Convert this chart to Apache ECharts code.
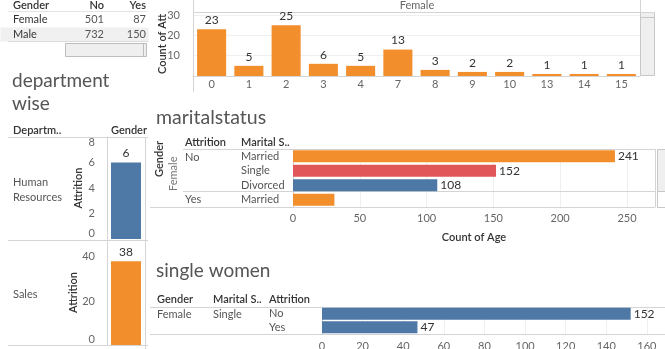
<!DOCTYPE html>
<html>
<head>
<meta charset="utf-8">
<script src="https://cdn.jsdelivr.net/npm/echarts@6/dist/echarts.min.js"></script>
<style>
  html, body { margin: 0; padding: 0; background: #fff; }
  #c { width: 665px; height: 349px; }
</style>
</head>
<body>
<div id="c"></div>
<script>
// Attrition crosstab by gender
const summaryGenders = ['Female', 'Male'];
const summaryNo = [501, 732];
const summaryYes = [87, 150];

// Female attrition count by years at company
const yearCategories = ['0', '1', '2', '3', '4', '7', '8', '9', '10', '13', '14', '15'];
const yearCounts = [23, 5, 25, 6, 5, 13, 3, 2, 2, 1, 1, 1];

// Department panels
const departments = ['Human\nResources', 'Sales'];
const departmentAttrition = [6, 38];

// Female employees by attrition and marital status
const maritalAttrition = ['No', 'No', 'No', 'Yes'];
const maritalStatus = ['Married', 'Single', 'Divorced', 'Married'];
const maritalCounts = [241, 152, 108, 31];
const maritalShowLabel = [true, true, true, false];

// Single women by attrition
const singleAttrition = ['No', 'Yes'];
const singleCounts = [152, 47];

const FONT = 'Lato, "Open Sans", sans-serif';
const ORANGE = '#f28e2b', RED = '#e15759', BLUE = '#4e79a7';
const statusColor = { Married: ORANGE, Single: RED, Divorced: BLUE };
const LINE = '#d4d4d4';

function txt(x, y, text, o) {
  o = o || {};
  return {
    type: 'text', x: x, y: y, rotation: o.rot || 0, silent: true, z: 10,
    style: {
      text: String(text), fill: o.color || '#555',
      font: (o.weight || 'normal') + ' ' + (o.size || 11) + 'px ' + FONT,
      align: o.align || 'left', verticalAlign: 'middle', lineHeight: o.lh
    }
  };
}
function hline(x1, x2, y, c) {
  return { type: 'line', silent: true, z: 1, shape: { x1: x1, y1: y + 0.5, x2: x2, y2: y + 0.5 }, style: { stroke: c || LINE, lineWidth: 1 } };
}
function vline(x, y1, y2, c) {
  return { type: 'line', silent: true, z: 1, shape: { x1: x + 0.5, y1: y1, x2: x + 0.5, y2: y2 }, style: { stroke: c || LINE, lineWidth: 1 } };
}
function box(x, y, w, h, fill, stroke) {
  return { type: 'rect', silent: true, z: 0, shape: { x: x + 0.5, y: y + 0.5, width: w, height: h }, style: { fill: fill, stroke: stroke || 'none', lineWidth: 1 } };
}

const graphics = [];
const HEAD = { weight: 600, color: '#333' };

// crosstab
graphics.push(box(0, 27, 148, 14, '#f0f0f0'));
graphics.push(hline(8, 148, 11, '#e4e4e4'), hline(8, 148, 41, '#dcdcdc'));
graphics.push(txt(13, 5, 'Gender', HEAD), txt(104, 5, 'No', Object.assign({ align: 'right' }, HEAD)), txt(146, 5, 'Yes', Object.assign({ align: 'right' }, HEAD)));
summaryGenders.forEach(function (g, i) {
  const y = 19 + i * 15;
  graphics.push(txt(13, y, g, { color: '#333' }), txt(104, y, summaryNo[i], { align: 'right' }), txt(146, y, summaryYes[i], { align: 'right' }));
});
graphics.push(box(65, 43, 81, 13, '#efefef', '#bdbdbd'), vline(143, 43, 57, '#bdbdbd'));

// yearly chart frame
graphics.push(hline(193, 655, 12), vline(640, 0, 12), vline(193, 0, 12), vline(193, 76, 92));
graphics.push(txt(417, 5, 'Female', { color: '#666', align: 'center' }));
graphics.push(box(640, 12, 14, 63, '#efefef', '#c8c8c8'), hline(640, 654, 17, '#c8c8c8'));

// department panels
graphics.push(txt(12, 81, 'department', { size: 19, color: '#555' }), txt(12, 104, 'wise', { size: 19, color: '#555' }));
graphics.push(txt(13, 130, 'Departm..', HEAD), txt(147, 130, 'Gender', Object.assign({ align: 'right' }, HEAD)));
graphics.push(hline(8, 148, 137), hline(8, 148, 240), hline(8, 148, 345), vline(145, 137, 349));
graphics.push(txt(13, 189.5, departments[0], { lh: 15 }), txt(13, 294, departments[1]));

// marital status table
graphics.push(txt(156, 118, 'maritalstatus', { size: 19.5, color: '#555' }));
graphics.push(txt(185, 142, 'Attrition', HEAD), txt(241, 142, 'Marital S..', HEAD));
graphics.push(hline(183, 655, 149), hline(183, 655, 191), hline(150, 293, 207), vline(655, 149, 207));
graphics.push(txt(159, 177, 'Gender', Object.assign({ rot: Math.PI / 2 }, HEAD)));
graphics.push(txt(173, 191, 'Female', { rot: Math.PI / 2, color: '#777' }));
maritalAttrition.forEach(function (a, i) {
  if (i === 0 || maritalAttrition[i - 1] !== a) graphics.push(txt(185, 157 + i * 14, a));
});
graphics.push(box(657, 149, 8, 42, '#efefef', '#c8c8c8'), box(657, 191, 8, 16, '#fff', '#c8c8c8'));

// single women table
graphics.push(txt(156, 271, 'single women', { size: 19, color: '#555' }));
graphics.push(txt(157, 299, 'Gender', HEAD), txt(213, 299, 'Marital S..', HEAD), txt(269, 299, 'Attrition', HEAD));
graphics.push(hline(150, 665, 307), hline(150, 665, 334));
graphics.push(txt(157, 314, 'Female'), txt(213, 314, 'Single'));

const axisLabelBase = { color: '#666', fontSize: 11, fontFamily: FONT };
const nameStyle = { color: '#333', fontSize: 11, fontWeight: 600, fontFamily: FONT };
const gridLine = { lineStyle: { color: '#efefef' } };
const axLine = { show: true, lineStyle: { color: LINE } };
const valLabel = { show: true, color: '#333', fontSize: 12, fontFamily: FONT };

const option = {
  backgroundColor: '#fff',
  animation: false,
  graphic: graphics,
  grid: [
    { left: 193, top: 12, width: 447, height: 64, outerBoundsMode: 'none' },
    { left: 107, top: 137, width: 38, height: 102, outerBoundsMode: 'none' },
    { left: 107, top: 240, width: 38, height: 105, outerBoundsMode: 'none' },
    { left: 293, top: 149, width: 362, height: 58, outerBoundsMode: 'none' },
    { left: 322, top: 307, width: 343, height: 27, outerBoundsMode: 'none' }
  ],
  xAxis: [
    { gridIndex: 0, type: 'category', data: yearCategories, axisLine: axLine, axisTick: { show: false },
      axisLabel: Object.assign({ margin: 3, interval: 0 }, axisLabelBase) },
    { gridIndex: 1, type: 'category', data: ['Female'], show: false },
    { gridIndex: 2, type: 'category', data: ['Female'], show: false },
    { gridIndex: 3, type: 'value', min: 0, max: 271, interval: 50, axisLine: axLine, axisTick: { show: false },
      splitLine: gridLine,
      axisLabel: Object.assign({ margin: 6, formatter: function (v) { return v % 50 === 0 ? v : ''; } }, axisLabelBase),
      name: 'Count of Age', nameLocation: 'middle', nameGap: 25, nameMoveOverlap: false, nameTextStyle: nameStyle },
    { gridIndex: 4, type: 'value', min: 0, max: 168.9, interval: 20, axisLine: axLine, axisTick: { show: false },
      splitLine: gridLine,
      axisLabel: Object.assign({ margin: 7, formatter: function (v) { return v % 20 === 0 ? v : ''; } }, axisLabelBase) }
  ],
  yAxis: [
    { gridIndex: 0, type: 'value', min: 0, max: 31.5, interval: 10, axisLine: axLine, axisTick: { show: false },
      splitLine: gridLine,
      axisLabel: Object.assign({ margin: 13, formatter: function (v) { return v > 0 && v % 10 === 0 ? v : ''; } }, axisLabelBase),
      name: 'Count of Att', nameLocation: 'middle', nameGap: 25, nameMoveOverlap: false, nameTextStyle: nameStyle },
    { gridIndex: 1, type: 'value', min: 0, max: 8, interval: 2, axisLine: axLine, axisTick: { show: false },
      splitLine: { show: false },
      axisLabel: Object.assign({ margin: 12, verticalAlignMinLabel: 'bottom', verticalAlignMaxLabel: 'top' }, axisLabelBase),
      name: 'Attrition', nameLocation: 'middle', nameGap: 23, nameMoveOverlap: false, nameTextStyle: nameStyle },
    { gridIndex: 2, type: 'value', min: 0, max: 47.7, interval: 20, axisLine: axLine, axisTick: { show: false },
      splitLine: { show: false },
      axisLabel: Object.assign({ margin: 12, verticalAlignMinLabel: 'bottom', formatter: function (v) { return v % 20 === 0 ? v : ''; } }, axisLabelBase),
      name: 'Attrition', nameLocation: 'middle', nameGap: 28, nameMoveOverlap: false, nameTextStyle: nameStyle },
    { gridIndex: 3, type: 'category', inverse: true, data: maritalStatus.map(function (s, i) { return maritalAttrition[i] + '|' + s; }),
      axisLine: axLine, axisTick: { show: false },
      axisLabel: { align: 'left', margin: 52, interval: 0, color: '#555', fontSize: 11, fontFamily: FONT,
        formatter: function (v) { return v.split('|')[1]; } } },
    { gridIndex: 4, type: 'category', inverse: true, data: singleAttrition,
      axisLine: axLine, axisTick: { show: false },
      axisLabel: { align: 'left', margin: 53, interval: 0, color: '#555', fontSize: 11, fontFamily: FONT } }
  ],
  series: [
    { type: 'bar', xAxisIndex: 0, yAxisIndex: 0, data: yearCounts, barCategoryGap: '22%',
      itemStyle: { color: ORANGE }, label: Object.assign({ position: 'top', distance: 3 }, valLabel) },
    { type: 'bar', xAxisIndex: 1, yAxisIndex: 1, data: [departmentAttrition[0]], barWidth: 30,
      itemStyle: { color: BLUE }, label: Object.assign({ position: 'top', distance: 3 }, valLabel) },
    { type: 'bar', xAxisIndex: 2, yAxisIndex: 2, data: [departmentAttrition[1]], barWidth: 30,
      itemStyle: { color: ORANGE }, label: Object.assign({ position: 'top', distance: 3 }, valLabel) },
    { type: 'bar', xAxisIndex: 3, yAxisIndex: 3, barCategoryGap: '16%',
      data: maritalCounts.map(function (v, i) {
        return { value: v, itemStyle: { color: statusColor[maritalStatus[i]] }, label: { show: maritalShowLabel[i] } };
      }),
      label: Object.assign({ position: 'right', distance: 3 }, valLabel) },
    { type: 'bar', xAxisIndex: 4, yAxisIndex: 4, data: singleCounts, barCategoryGap: '12%',
      itemStyle: { color: BLUE }, label: Object.assign({ position: 'right', distance: 3 }, valLabel) }
  ]
};

echarts.init(document.getElementById('c'), null, { renderer: 'canvas' }).setOption(option);
</script>
</body>
</html>
